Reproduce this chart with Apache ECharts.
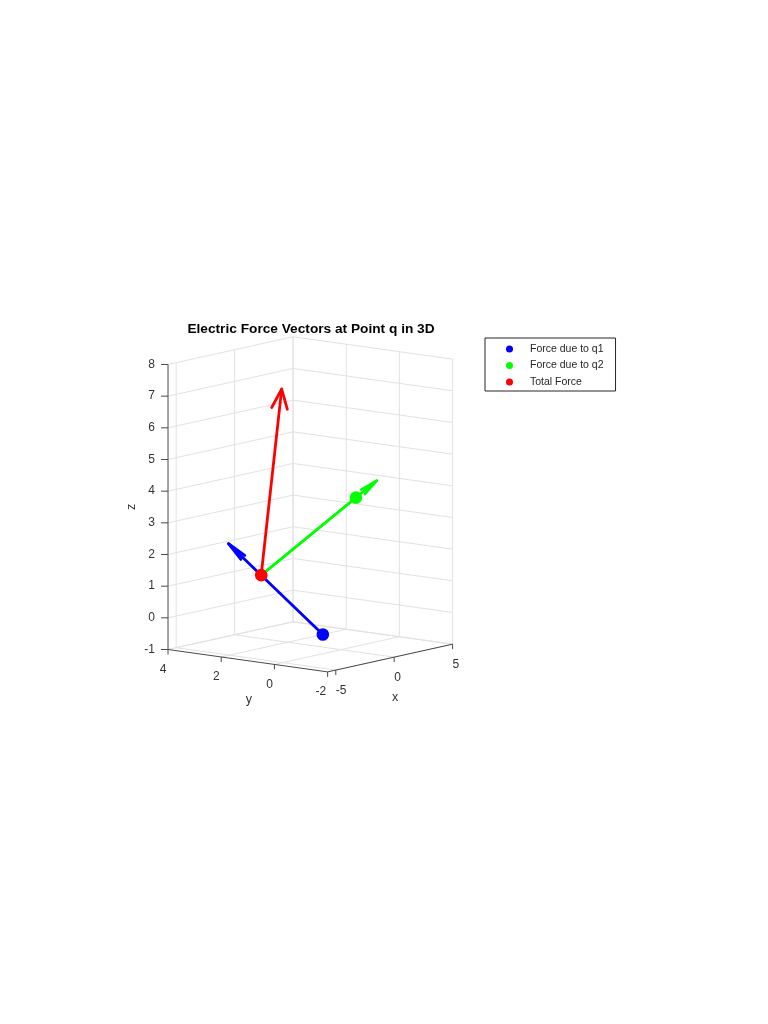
<!DOCTYPE html>
<html>
<head>
<meta charset="utf-8">
<title>Electric Force Vectors at Point q in 3D</title>
<script src="https://cdn.jsdelivr.net/npm/echarts@6/dist/echarts.min.js"></script>
<style>
  html, body { margin: 0; padding: 0; background: #fff; }
  #chart { width: 768px; height: 1024px; }
</style>
</head>
<body>
<div id="chart"></div>
<script>
// axis limits and ticks
const xLim = [-5.7, 5];
const yLim = [-2, 4];
const zLim = [-1, 8];
const xTicks = [-5, 0, 5];
const yTicks = [-2, 0, 2, 4];
const zTicks = [-1, 0, 1, 2, 3, 4, 5, 6, 7, 8];

// positions (x, y, z)
const pointQ = [0, 3, 1];
const chargeQ1 = [3, 2, -1];
const chargeQ2 = [-1, -1, 4];

// force vectors drawn at q (as scaled by the plot)
const forceQ1 = [-1.59, 0.53, 1.06];
const forceQ2 = [-1.22, -4.88, 3.66];
const forceTotal = [0.5, -0.55, 5.9];

const seriesNames = ['Force due to q1', 'Force due to q2', 'Total Force'];

// orthographic view: screen offset of the origin and of one unit along x, y, z
const view = {
    origin: [341, 618],
    ex: [11.68, -2.59],
    ey: [-26.6, -3.73],
    ez: [0, -31.67]
};

function project(p) {
    return [
        view.origin[0] + p[0] * view.ex[0] + p[1] * view.ey[0] + p[2] * view.ez[0],
        view.origin[1] + p[0] * view.ex[1] + p[1] * view.ey[1] + p[2] * view.ez[1]
    ];
}

const FONT = '"Liberation Sans", Arial, Helvetica, sans-serif';
const gridStyle = { stroke: '#e2e2e2', lineWidth: 1 };
const axisStyle = { stroke: '#4a4a4a', lineWidth: 1 };
const labelColor = '#333';

// box, grid, ticks and labels of the 3d axes
function renderAxes(params, api) {
    const P = (x, y, z) => api.coord(project([x, y, z]));
    const kids = [];
    const seg = (a, b, style) => kids.push({
        type: 'line', shape: { x1: a[0], y1: a[1], x2: b[0], y2: b[1] }, style: style
    });
    const label = (pt, text, align, size, extra) => kids.push(Object.assign({
        type: 'text', x: pt[0], y: pt[1],
        style: { text: String(text), fill: labelColor, font: size + 'px ' + FONT, align: align, verticalAlign: 'middle' }
    }, extra || {}));

    const [x0, x1] = xLim, [y0, y1] = yLim, [z0, z1] = zLim;

    // floor z = zmin
    xTicks.forEach(x => seg(P(x, y0, z0), P(x, y1, z0), gridStyle));
    yTicks.forEach(y => seg(P(x0, y, z0), P(x1, y, z0), gridStyle));
    // back wall y = ymax
    xTicks.forEach(x => seg(P(x, y1, z0), P(x, y1, z1), gridStyle));
    zTicks.forEach(z => seg(P(x0, y1, z), P(x1, y1, z), gridStyle));
    // back wall x = xmax
    yTicks.forEach(y => seg(P(x1, y, z0), P(x1, y, z1), gridStyle));
    zTicks.forEach(z => seg(P(x1, y0, z), P(x1, y1, z), gridStyle));

    // axis lines
    seg(P(x0, y1, z0), P(x0, y1, z1), axisStyle);
    seg(P(x0, y0, z0), P(x0, y1, z0), axisStyle);
    seg(P(x0, y0, z0), P(x1, y0, z0), axisStyle);

    // z ticks and labels
    zTicks.forEach(z => {
        const p = P(x0, y1, z);
        seg(p, [p[0] - 7, p[1]], axisStyle);
        label([p[0] - 13, p[1]], z, 'right', 12);
    });
    // y ticks and labels
    yTicks.forEach(y => {
        const p = P(x0, y, z0);
        seg(p, [p[0], p[1] + 5], axisStyle);
        label([p[0] - 1.5, p[1] + 20], y, 'right', 12);
    });
    // x ticks and labels
    xTicks.forEach(x => {
        const p = P(x, y0, z0);
        seg(p, [p[0], p[1] + 5], axisStyle);
        label([p[0], p[1] + 20.5], x, 'left', 12);
    });

    // axis names
    const zm = P(x0, y1, (z0 + z1) / 2);
    label([zm[0] - 36, zm[1]], 'z', 'center', 12.5, { rotation: Math.PI / 2 });
    const ym = P(x0, (y0 + y1) / 2, z0);
    label([ym[0] + 1, ym[1] + 39], 'y', 'center', 12.5);
    const xm = P((x0 + x1) / 2, y0, z0);
    label([xm[0] + 5, xm[1] + 40], 'x', 'center', 12.5);

    return { type: 'group', children: kids };
}

// one quiver arrow from q, a line from the marker to q, and the marker
function makeForceRenderer(headLen, headAngle, lineWidth) {
    return function (params, api) {
        const q = [api.value(0), api.value(1), api.value(2)];
        const f = [api.value(3), api.value(4), api.value(5)];
        const m = [api.value(6), api.value(7), api.value(8)];
        const pq = api.coord(project(q));
        const pt = api.coord(project([q[0] + f[0], q[1] + f[1], q[2] + f[2]]));
        const pm = api.coord(project(m));
        const color = api.visual('color');

        let dx = pq[0] - pt[0], dy = pq[1] - pt[1];
        const len = Math.hypot(dx, dy) || 1;
        dx /= len; dy /= len;
        const barb = s => {
            const a = s * headAngle * Math.PI / 180;
            const c = Math.cos(a), sn = Math.sin(a);
            return [pt[0] + headLen * (dx * c - dy * sn), pt[1] + headLen * (dx * sn + dy * c)];
        };
        const lineStyle = { stroke: color, lineWidth: lineWidth, fill: null, lineCap: 'round', lineJoin: 'round' };
        return {
            type: 'group',
            children: [
                { type: 'line', shape: { x1: pm[0], y1: pm[1], x2: pq[0], y2: pq[1] }, style: lineStyle },
                { type: 'line', shape: { x1: pq[0], y1: pq[1], x2: pt[0], y2: pt[1] }, style: lineStyle },
                { type: 'polyline', shape: { points: [barb(1), pt, barb(-1)] }, style: lineStyle },
                { type: 'circle', shape: { cx: pm[0], cy: pm[1], r: 6.3 }, style: { fill: color } }
            ]
        };
    };
}

const forceRows = [
    { name: seriesNames[0], color: '#0000ff', vec: forceQ1, marker: chargeQ1, head: [20, 8], width: 2.8 },
    { name: seriesNames[1], color: '#00ff00', vec: forceQ2, marker: chargeQ2, head: [18, 9], width: 2.6 },
    { name: seriesNames[2], color: '#ff0000', vec: forceTotal, marker: pointQ, head: [21, 22], width: 2.8 }
];

const chart = echarts.init(document.getElementById('chart'));
chart.setOption({
    animation: false,
    backgroundColor: '#fff',
    title: {
        text: 'Electric Force Vectors at Point q in 3D',
        left: 311,
        top: 322,
        padding: 0,
        textAlign: 'center',
        textStyle: { fontFamily: FONT, fontSize: 13.7, fontWeight: 'bold', color: '#000' }
    },
    legend: {
        data: seriesNames,
        orient: 'vertical',
        left: 485,
        top: 338,
        padding: [5, 12, 3, 21],
        itemWidth: 31,
        itemHeight: 7,
        itemGap: 4.5,
        icon: 'circle',
        borderColor: '#262626',
        borderWidth: 1,
        backgroundColor: '#fff',
        selectedMode: false,
        textStyle: { fontFamily: FONT, fontSize: 10.5, color: '#262626', lineHeight: 12 }
    },
    grid: { left: 0, right: 0, top: 0, bottom: 0 },
    xAxis: { type: 'value', min: 0, max: 768, show: false },
    yAxis: { type: 'value', min: 0, max: 1024, inverse: true, show: false },
    series: [
        {
            type: 'custom',
            name: 'axes3d',
            silent: true,
            renderItem: renderAxes,
            data: [[0, 0]]
        }
    ].concat(forceRows.map(r => ({
        type: 'custom',
        name: r.name,
        silent: true,
        itemStyle: { color: r.color },
        renderItem: makeForceRenderer(r.head[0], r.head[1], r.width),
        data: [pointQ.concat(r.vec, r.marker)]
    })))
});
</script>
</body>
</html>
